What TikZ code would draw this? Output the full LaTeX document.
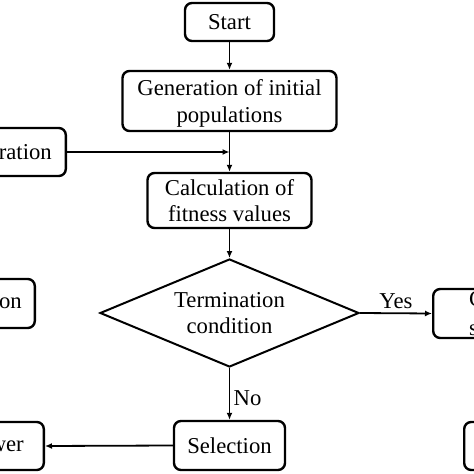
\documentclass[tikz,border=0pt]{standalone}
\usepackage{fontspec}
\setmainfont{Liberation Serif}
\usetikzlibrary{shapes.geometric,arrows.meta}

\tikzset{
    base/.style={draw=black, line width=2.4pt, font=\fontsize{22.7pt}{26.7pt}\selectfont, align=center, inner sep=0pt},
    process/.style={rectangle, rounded corners=7pt, base},
    decision/.style={diamond, aspect=2.4, base, line width=2pt},
    cut left/.style={process, anchor=east, text width=120pt, align=right, inner xsep=14pt},
    cut right/.style={process, anchor=west, text width=120pt, align=left, inner xsep=36pt},
    flow/.style={line width=1.8pt, -{Latex[length=7pt,width=6pt]}},
    tag/.style={font=\fontsize{22.7pt}{26.7pt}\selectfont},
}

\begin{document}
\begin{tikzpicture}[x=1pt, y=-1pt]
    \useasboundingbox (0,0) rectangle (474,474);
    \clip (0,0) rectangle (474,474);
    \fill[white] (0,0) rectangle (474,474);
    % main column
    \node[process, minimum width=89pt, minimum height=38pt] (start) at (229.5,22) {Start};
    \node[process, minimum width=214pt, minimum height=60pt, text depth=0pt] (init) at (229.5,101) {Generation of initial\\populations};
    \node[process, minimum width=164pt, minimum height=55pt] (fitness) at (229.5,200.5) {Calculation of\\fitness values};
    \node[decision, minimum width=259pt, minimum height=108pt] (stop) at (229.5,313) {Termination\\condition};
    \node[process, minimum width=111pt, minimum height=49pt] (select) at (229.5,445.5) {Selection};
    % boxes cut by the edges
    \node[cut left, minimum height=48pt] (nextgen) at (67,152) {ration};
    \node[cut left, minimum height=49pt, inner xsep=13pt] (leftmid) at (36,303.5) {on};
    \node[cut left, minimum height=48pt, inner xsep=20pt] (leftlow) at (45,446) {wer};
    \node[cut right, minimum height=49pt, font=\fontsize{22.7pt}{29pt}\selectfont] (result) at (432,313.5) {C\\s};
    \node[process, anchor=west, minimum width=100pt, minimum height=48pt] (rightlow) at (463,446) {};
    % connectors
    \coordinate (merge) at (init.south |- nextgen.east);
    \draw[flow] (start) -- (init);
    \draw[flow] (init) -- (fitness);
    \draw[flow] (nextgen.east) -- (merge);
    \draw[flow] (fitness) -- (stop);
    \draw[flow] (stop.east) -- node[tag, above] {Yes} (result.west);
    \draw[flow] (stop.south) -- node[tag, right, pos=0.59] {No} (select.north);
    \draw[flow] (select.west) -- (leftlow.east);
\end{tikzpicture}
\end{document}
